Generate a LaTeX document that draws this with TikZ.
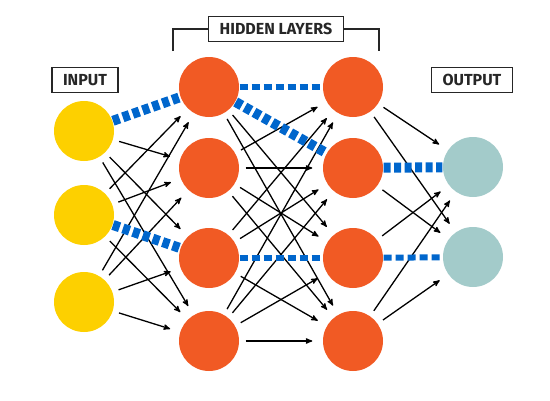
\documentclass[tikz,border=0pt]{standalone}
\usepackage{fontspec}
\newfontfamily\tagfont{Fira Sans}
\usepackage{tikz}
\usetikzlibrary{arrows}

\definecolor{sun}{HTML}{FDD000}
\definecolor{rust}{HTML}{F15A24}
\definecolor{sea}{HTML}{A3CBCA}
\definecolor{wire}{HTML}{0066CC}
\definecolor{ink}{HTML}{262626}

\begin{document}
\begin{tikzpicture}[->,>=stealth',shorten >=10pt,shorten <=6pt,x=1pt,y=-1pt,
                    line width=1.3pt,
                    unit/.style={circle,minimum size=60pt,inner sep=0pt},
                    in node/.style={unit,fill=sun},
                    hid node/.style={unit,fill=rust},
                    out node/.style={unit,fill=sea},
                    tag/.style={draw=ink,line width=1.5pt,text=ink,minimum height=25pt,
                                inner xsep=11pt,font=\tagfont\bfseries\fontsize{16}{16}\selectfont},
                    hot/.style={-,draw=wire,line width=10pt,dash pattern=on 7pt off 3.5pt,
                                shorten >=0pt,shorten <=0pt},
                    weak/.style={hot,line width=6pt,dash pattern=on 8pt off 4pt},
                    bracket line/.style={-,draw=ink,line width=1.5pt,shorten >=0pt,shorten <=0pt}]
  \useasboundingbox (0,0) rectangle (550,400);
  % layers
  \node[in node] (i1) at (84,131) {};
  \node[in node] (i2) at (84,215) {};
  \node[in node] (i3) at (84,302) {};
  \node[hid node] (h1) at (209,87) {};
  \node[hid node] (h2) at (209,168) {};
  \node[hid node] (h3) at (209,258) {};
  \node[hid node] (h4) at (209,341) {};
  \node[hid node] (g1) at (353,87) {};
  \node[hid node] (g2) at (353,168) {};
  \node[hid node] (g3) at (353,258) {};
  \node[hid node] (g4) at (353,341) {};
  \node[out node] (o1) at (473,167) {};
  \node[out node] (o2) at (473,257) {};
  % labels
  \node[tag] (inp) at (85,80) {INPUT};
  \node[tag] (outp) at (472,80) {OUTPUT};
  \node[tag] (hid) at (276,29) {HIDDEN LAYERS};
  \coordinate (bl) at (173,51);
  \coordinate (br) at (379,51);
  \draw[bracket line] (bl) |- (hid.west);
  \draw[bracket line] (hid.east) -| (br);
  % weights
  \path (i1) edge (h2) edge (h3) edge (h4)
        (i2) edge (h1) edge (h2) edge (h4)
        (i3) edge (h1) edge (h2) edge (h3) edge (h4);
  \path (h1) edge (g3) edge (g4)
        (h2) edge (g1) edge (g2) edge (g3) edge (g4)
        (h3) edge (g1) edge (g2) edge (g4)
        (h4) edge (g1) edge (g2) edge (g3) edge (g4);
  \path (g1) edge (o1) edge (o2)
        (g2) edge (o2)
        (g3) edge (o1)
        (g4) edge (o1) edge (o2);
  \path[hot] (i1) edge (h1) (i2) edge (h3) (h1) edge (g2) (g2) edge (o1);
  \path[weak] (h1) edge (g1) (h3) edge (g3) (g3) edge (o2);
\end{tikzpicture}
\end{document}
